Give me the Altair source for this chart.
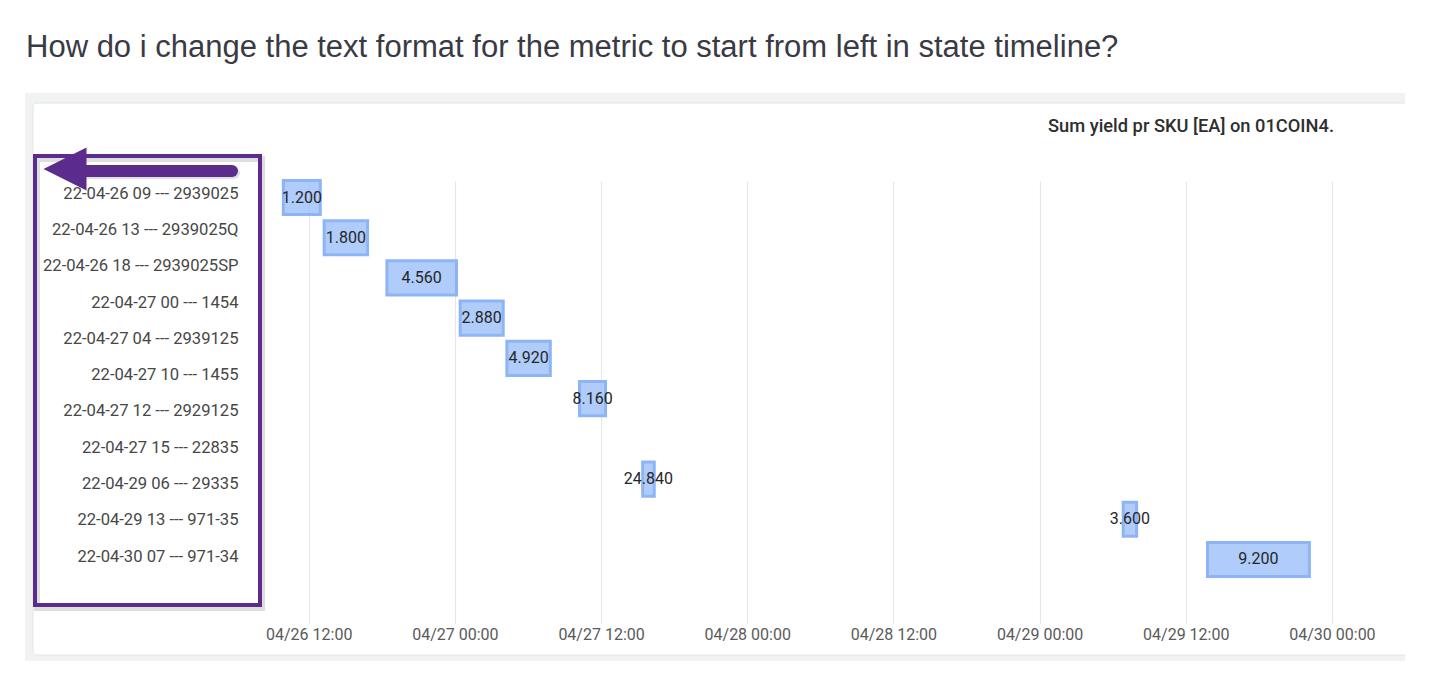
import altair as alt
import pandas as pd

# ---------------- data ----------------
question = "How do i change the text format for the metric to start from left in state timeline?"
panel_title = "Sum yield pr SKU [EA] on 01COIN4."

row_labels = [
    "22-04-26 09 --- 2939025",
    "22-04-26 13 --- 2939025Q",
    "22-04-26 18 --- 2939025SP",
    "22-04-27 00 --- 1454",
    "22-04-27 04 --- 2939125",
    "22-04-27 10 --- 1455",
    "22-04-27 12 --- 2929125",
    "22-04-27 15 --- 22835",
    "22-04-29 06 --- 29335",
    "22-04-29 13 --- 971-35",
    "22-04-30 07 --- 971-34",
]
bar_row_index = [0, 1, 2, 3, 4, 5, 7, 8, 9]
bar_starts = ["2022-04-26T09:55", "2022-04-26T13:16", "2022-04-26T18:25",
              "2022-04-27T00:26", "2022-04-27T04:16", "2022-04-27T10:14",
              "2022-04-27T15:25", "2022-04-29T06:52", "2022-04-29T13:47"]
bar_ends = ["2022-04-26T12:57", "2022-04-26T16:50", "2022-04-27T00:08",
            "2022-04-27T03:58", "2022-04-27T07:50", "2022-04-27T12:22",
            "2022-04-27T16:22", "2022-04-29T07:58", "2022-04-29T22:09"]
bar_values = ["1.200", "1.800", "4.560", "2.880", "4.920", "8.160",
              "24.840", "3.600", "9.200"]
tick_times = ["2022-04-26T12:00", "2022-04-27T00:00", "2022-04-27T12:00",
              "2022-04-28T00:00", "2022-04-28T12:00", "2022-04-29T00:00",
              "2022-04-29T12:00", "2022-04-30T00:00"]
x_domain = ["2022-04-26T08:00", "2022-04-30T06:00"]

# ---------------- tables ----------------
bars = pd.DataFrame({
    "row": [row_labels[i] for i in bar_row_index],
    "start": bar_starts,
    "end": bar_ends,
    "value": bar_values,
})
s = pd.to_datetime(bars["start"])
e = pd.to_datetime(bars["end"])
bars["mid"] = (s + (e - s) / 2).dt.strftime("%Y-%m-%dT%H:%M:%S")
labels_df = pd.DataFrame({"label": row_labels})
one = pd.DataFrame({"k": [0]})


def dt(t):
    p = pd.Timestamp(t)
    return alt.DateTime(year=p.year, month=p.month, date=p.day,
                        hours=p.hour, minutes=p.minute)


FONT = "Roboto"
x_scale = alt.Scale(domain=[dt(t) for t in x_domain])
x_axis = alt.Axis(values=[dt(t) for t in tick_times], format="%m/%d %H:%M",
                  title=None, domain=False, ticks=False, tickSize=0,
                  labelPadding=5, labelFont=FONT, labelFontSize=16,
                  labelColor="#5a5a5a", grid=True, gridColor="#e7e7e7",
                  gridWidth=1.2, labelFlush=False, labelOverlap=False)
bar_y_scale = alt.Scale(domain=row_labels, range=[-2.6, 439.8],
                        paddingInner=0.15, paddingOuter=0.075)
label_y_scale = alt.Scale(domain=row_labels, range=[-4.8, 394.2],
                          paddingInner=0, paddingOuter=0)

# ---------------- decorations (frame) ----------------
grey = "#f1f2f2"
top_strip = alt.Chart(one).mark_rect(color=grey).encode(
    x=alt.value(-235), x2=alt.value(1145), y=alt.value(-87), y2=alt.value(-77))
left_strip = alt.Chart(one).mark_rect(color=grey).encode(
    x=alt.value(-235), x2=alt.value(-227), y=alt.value(-87), y2=alt.value(481))
bottom_strip = alt.Chart(one).mark_rect(color=grey).encode(
    x=alt.value(-235), x2=alt.value(1145), y=alt.value(475), y2=alt.value(481))
card_border = alt.Chart(one).mark_rect(
    fill="transparent", stroke="#e2e4e4", strokeWidth=1, cornerRadius=3).encode(
    x=alt.value(-227), x2=alt.value(1170), y=alt.value(-77), y2=alt.value(475))

title = alt.Chart(one).mark_text(
    text=question, font="Liberation Sans", fontSize=31, color="#3a3a44",
    align="left", baseline="alphabetic").encode(
    x=alt.value(-234), y=alt.value(-123))
subtitle = alt.Chart(one).mark_text(
    text=panel_title, font=FONT, fontSize=18.3, fontWeight=500, color="#2e2e2e",
    align="left", baseline="middle").encode(
    x=alt.value(788), y=alt.value(-53))

# ---------------- data layers ----------------
bar_layer = alt.Chart(bars).mark_bar(
    color="#8ab4f8", fillOpacity=0.68, stroke="#8db5f6", strokeWidth=3,
    cornerRadius=0).encode(
    x=alt.X("start:T", scale=x_scale, axis=x_axis),
    x2="end:T",
    y=alt.Y("row:N", scale=bar_y_scale, axis=None),
)
text_layer = alt.Chart(bars).mark_text(
    font=FONT, fontSize=16, color="#262626", align="center",
    baseline="middle").encode(
    x=alt.X("mid:T", scale=x_scale, axis=x_axis),
    y=alt.Y("row:N", scale=bar_y_scale, axis=None),
    text="value:N",
)
label_layer = alt.Chart(labels_df).mark_point(opacity=0).encode(
    x=alt.value(0),
    y=alt.Y("label:N", scale=label_y_scale,
            axis=alt.Axis(title=None, domain=False, ticks=False, tickSize=0,
                          labelPadding=22, labelFont=FONT, labelFontSize=16.6,
                          labelColor="#474747", labelLimit=0, grid=False)),
)

# ---------------- purple annotation ----------------
purple = "#5b2c8c"
box_shadow = alt.Chart(one).mark_rect(
    fill="transparent", stroke="#000000", strokeOpacity=0.13, strokeWidth=6).encode(
    x=alt.value(-223), x2=alt.value(2), y=alt.value(-21), y2=alt.value(428))
box = alt.Chart(one).mark_rect(
    fill="transparent", stroke=purple, strokeWidth=4).encode(
    x=alt.value(-225), x2=alt.value(0), y=alt.value(-24), y2=alt.value(425))
arrow_shadow = alt.Chart(one).mark_rule(
    color="#000000", opacity=0.12, strokeWidth=12, strokeCap="round").encode(
    x=alt.value(-188), x2=alt.value(-26), y=alt.value(-7))
arrow_shaft = alt.Chart(one).mark_rule(
    color=purple, strokeWidth=12, strokeCap="round").encode(
    x=alt.value(-190), x2=alt.value(-28), y=alt.value(-9))
arrow_head = alt.Chart(one).mark_point(
    shape="M -1 0 L 1 -1 L 1 1 Z", filled=True, size=1849, color=purple,
    opacity=1).encode(
    x=alt.value(-195), y=alt.value(-11))

chart = alt.layer(
    top_strip, left_strip, bottom_strip, card_border,
    bar_layer, text_layer, label_layer,
    box_shadow, box, arrow_shadow, arrow_shaft, arrow_head,
    subtitle, title,
).resolve_scale(y="independent").properties(
    width=1145, height=441,
    padding={"left": 252, "top": 172, "right": 0, "bottom": 60},
    autosize=alt.AutoSizeParams(type="none"),
    background="white",
).configure_view(stroke=None)

chart.save("out.html", embed_options={"renderer": "svg", "actions": False})
